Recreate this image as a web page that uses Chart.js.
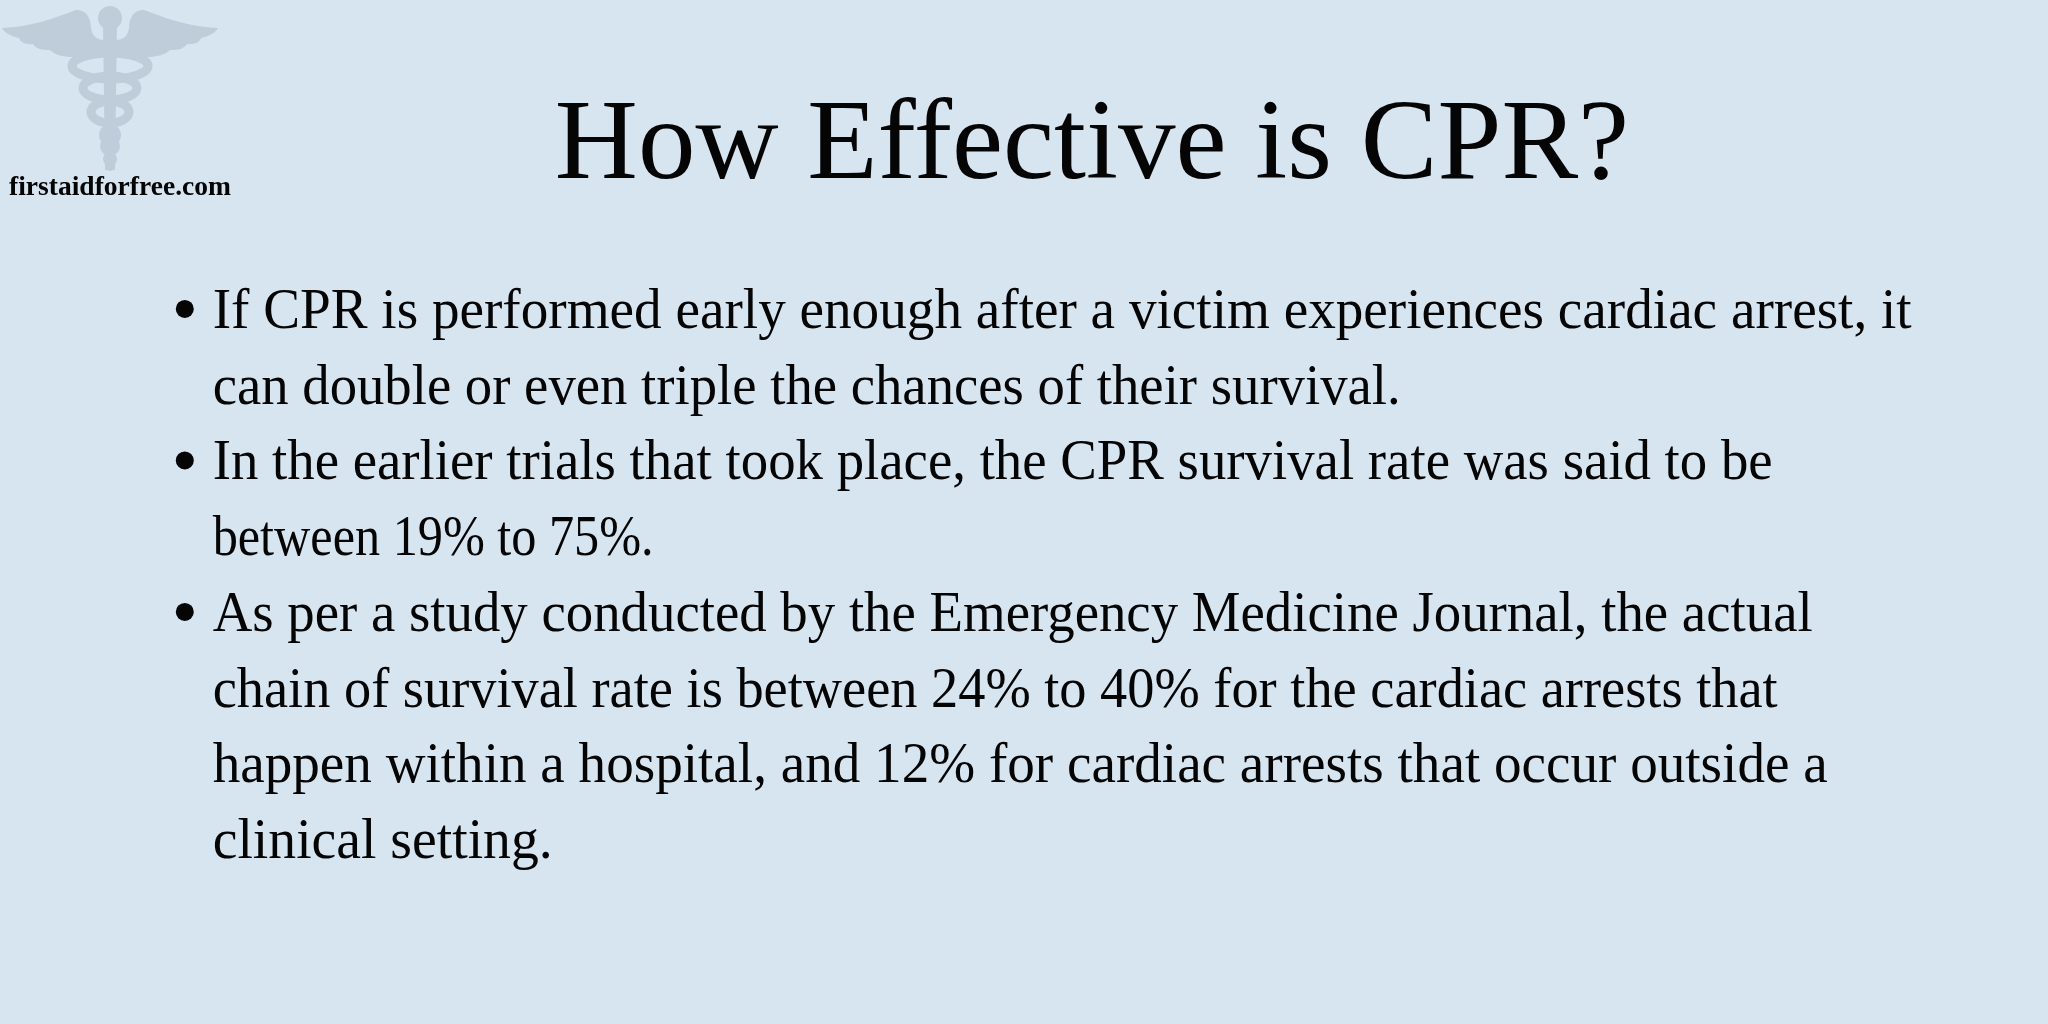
<!DOCTYPE html>
<html>
<head>
<meta charset="utf-8">
<title>How Effective is CPR?</title>
<script src="https://cdn.jsdelivr.net/npm/chart.js@4"></script>
<style>
html, body { margin: 0; padding: 0; background: #d7e5f1; overflow: hidden; }
canvas { display: block; }
</style>
</head>
<body>
<canvas id="miGrafico" width="2048" height="1024"></canvas>
<script>
const titulo = 'How Effective is CPR?';
const sitio = 'firstaidforfree.com';
const lineas = [
    'If CPR is performed early enough after a victim experiences cardiac arrest, it',
    'can double or even triple the chances of their survival.',
    'In the earlier trials that took place, the CPR survival rate was said to be',
    'between 19% to 75%.',
    'As per a study conducted by the Emergency Medicine Journal, the actual',
    'chain of survival rate is between 24% to 40% for the cardiac arrests that',
    'happen within a hospital, and 12% for cardiac arrests that occur outside a',
    'clinical setting.'
];
const lineasConVineta = [0, 2, 4];
// ancho de cada linea en la referencia, la fuente original es otra
const anchos = [1699, 1188, 1560, 441, 1600, 1565, 1615, 340];

const colorTexto = '#050505';
const colorLogo = '#bfcddb';
const fuente = '"Liberation Serif", serif';

// caduceo del logo, en pixeles del lienzo
const alas = 'M2 28 C30 27 55 18 76 10 C86 9 91 18 91 28 C92 36 97 40 104 40 L104 55 C98 57 78 58 72 57 C64 57 55 55 50 50 C42 50 36 49 33 44 C26 45 20 42 19 38 C10 36 4 32 2 28 Z';
const lazos = [[110, 66, 38, 13], [110, 88, 27, 12], [110, 112, 19, 11]];
const nudos = [[110, 135, 11], [110, 146, 10], [110, 159, 7], [110, 167, 4]];

const logoPlugin = {
    id: 'logo',
    beforeDatasetsDraw(chart) {
        const ctx = chart.ctx;
        ctx.save();
        ctx.fillStyle = colorLogo;
        ctx.strokeStyle = colorLogo;
        const ala = new Path2D(alas);
        ctx.fill(ala);
        ctx.save();
        ctx.translate(220, 0);
        ctx.scale(-1, 1);
        ctx.fill(ala);
        ctx.restore();
        ctx.beginPath();
        ctx.arc(110, 18, 12, 0, Math.PI * 2);
        ctx.fill();
        ctx.beginPath();
        ctx.moveTo(103, 24);
        ctx.lineTo(117, 24);
        ctx.lineTo(115, 170);
        ctx.lineTo(105, 170);
        ctx.closePath();
        ctx.fill();
        ctx.lineWidth = 9;
        lazos.forEach(l => {
            ctx.beginPath();
            ctx.ellipse(l[0], l[1], l[2], l[3], 0, 0, Math.PI * 2);
            ctx.stroke();
        });
        nudos.forEach(n => {
            ctx.beginPath();
            ctx.arc(n[0], n[1], n[2], 0, Math.PI * 2);
            ctx.fill();
        });
        ctx.fillStyle = colorTexto;
        ctx.font = 'bold 28px ' + fuente;
        ctx.textBaseline = 'alphabetic';
        ctx.fillText(sitio, 9, 195, 222);
        ctx.restore();
    }
};

const textoPlugin = {
    id: 'texto',
    afterDatasetsDraw(chart) {
        const ctx = chart.ctx;
        const x = chart.scales.x.getPixelForValue(1);
        ctx.save();
        ctx.fillStyle = colorTexto;
        ctx.font = '56px ' + fuente;
        ctx.textBaseline = 'alphabetic';
        lineas.forEach((linea, i) => {
            ctx.fillText(linea, x, chart.scales.y.getPixelForValue(i) + 19, anchos[i]);
        });
        ctx.restore();
    }
};

new Chart(document.getElementById('miGrafico').getContext('2d'), {
    type: 'scatter',
    data: {
        labels: lineas,
        datasets: [{
            data: lineasConVineta.map(i => ({ x: 0, y: lineas[i] })),
            pointRadius: 9,
            pointBackgroundColor: colorTexto,
            pointBorderWidth: 0,
            clip: false
        }]
    },
    plugins: [logoPlugin, textoPlugin],
    options: {
        responsive: false,
        animation: false,
        events: [],
        layout: { padding: { left: 136, bottom: 147 } },
        plugins: {
            legend: { display: false },
            tooltip: { enabled: false },
            title: {
                display: true,
                text: titulo,
                color: colorTexto,
                font: { family: fuente, size: 115, weight: 'normal', lineHeight: 1.2 },
                padding: { top: 79, bottom: 54 }
            }
        },
        scales: {
            x: { type: 'linear', display: false, min: -1.75, max: 66.5 },
            y: { type: 'category', display: false, offset: true }
        }
    }
});
</script>
</body>
</html>
